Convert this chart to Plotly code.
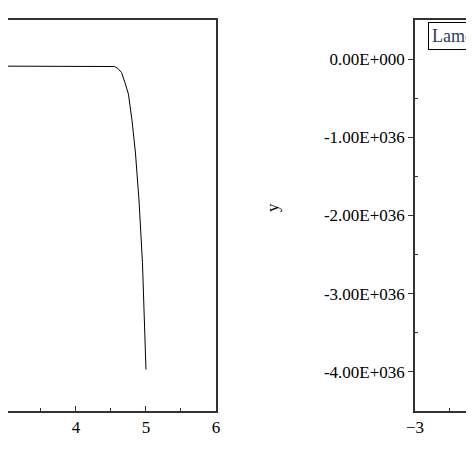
import plotly.graph_objects as go

# left panel curve (y in units of 1e36)
x_left = [3.0, 3.5, 4.0, 4.4, 4.5, 4.55, 4.6, 4.65, 4.7, 4.75, 4.8, 4.85, 4.9, 4.95, 5.0]
y_left = [-0.09, -0.09, -0.09, -0.09, -0.09, -0.095, -0.12, -0.17, -0.3, -0.45, -0.78, -1.2, -1.8, -2.6, -3.97]

y_ticks = [0, -1, -2, -3, -4]
y_labels = ["0.00E+000", "-1.00E+036", "-2.00E+036", "-3.00E+036", "-4.00E+036"]
legend_name = "Lamda"

W, H = 474, 474
ydom = [1 - 403 / H, 1 - 12 / H]
font = dict(family="Liberation Serif", size=17, color="black")

fig = go.Figure()
fig.add_trace(go.Scatter(x=x_left, y=y_left, mode="lines", line=dict(color="black", width=1),
                         xaxis="x", yaxis="y", showlegend=False))
fig.add_trace(go.Scatter(x=[None], y=[None], mode="lines", xaxis="x2", yaxis="y2", showlegend=False))

axis_common = dict(showgrid=False, zeroline=False, linecolor="#333", linewidth=1.5,
                   ticklen=5, tickcolor="#333", automargin=False)

fig.update_layout(
    width=W, height=H, margin=dict(l=0, r=0, t=0, b=0),
    paper_bgcolor="white", plot_bgcolor="white", showlegend=False,
    xaxis=dict(domain=[0, 208 / W], range=[3.03, 6], tickvals=[4, 5, 6], ticks="inside",
               showline=True, mirror=True, tickfont=font,
               minor=dict(tickvals=[3.5, 4.5, 5.5], ticks="inside", ticklen=3), **axis_common),
    yaxis=dict(domain=ydom, range=[-4.5, 0.5], side="right", showline=True, showticklabels=False,
               ticks="", anchor="x", **axis_common),
    xaxis2=dict(domain=[407 / W, 1], range=[-3, -2.04], tickvals=[-3], ticks="inside", anchor="y2",
                showline=True, mirror=True, tickfont=font,
                minor=dict(tickvals=[-2.5], ticks="inside", ticklen=3), **axis_common),
    yaxis2=dict(domain=ydom, range=[-4.5, 0.5], anchor="x2", tickvals=y_ticks, ticktext=y_labels,
                ticks="outside", showline=True, tickfont=font,
                minor=dict(tickvals=[-0.5, -1.5, -2.5, -3.5], ticks="inside", ticklen=3),
                **axis_common),
    annotations=[
        dict(text=legend_name, xref="paper", yref="paper", x=420 / W, y=1 - 14 / H,
             xanchor="left", yanchor="top", showarrow=False, font=dict(family="Liberation Serif", size=18),
             bordercolor="black", borderwidth=1, borderpad=3, bgcolor="white"),
        dict(text="y", xref="paper", yref="paper", x=265 / W, y=1 - 200 / H, textangle=-90,
             showarrow=False, font=font),
    ],
)

fig.write_html("out.html")
